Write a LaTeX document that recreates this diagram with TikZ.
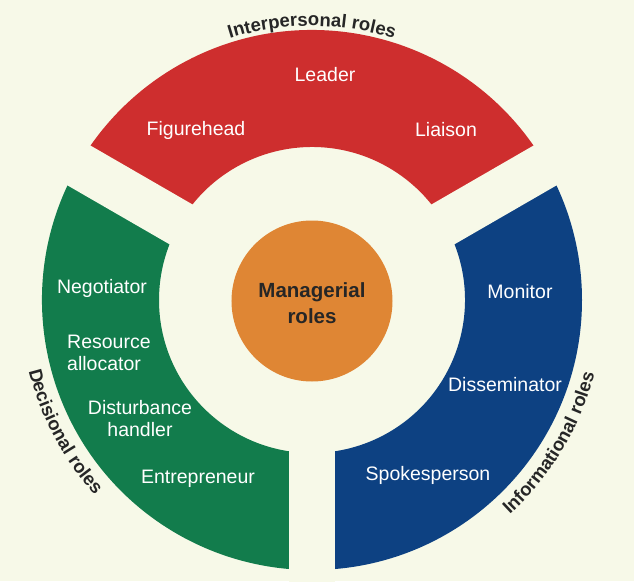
\documentclass[tikz,border=0pt]{standalone}
\usepackage{fontspec}
\setmainfont{Liberation Sans}
\usetikzlibrary{decorations.text}
\definecolor{bg}{HTML}{F7F9E8}
\definecolor{cred}{HTML}{CE2E2E}
\definecolor{cgreen}{HTML}{127C4C}
\definecolor{cblue}{HTML}{0D4182}
\definecolor{corange}{HTML}{DF8634}
\definecolor{ink}{HTML}{262626}
\begin{document}
\begin{tikzpicture}[x=1pt,y=1pt,
  role/.style={text=white,font=\fontsize{19.5}{22}\selectfont,inner sep=0pt},
  gap/.style={draw=bg,line width=46pt},
  arclabel/.style={decorate,decoration={text along path,text align=center,
     text={|\fontsize{18.5}{21}\bfseries\color{ink}|#1}}}]
\fill[bg] (-312,-281) rectangle (322,300);
\useasboundingbox (-312,-281) rectangle (322,300);
\fill[cred] (30:270) arc[start angle=30,end angle=150,radius=270] -- (150:153) arc[start angle=150,end angle=30,radius=153] -- cycle;
\fill[cgreen] (150:270) arc[start angle=150,end angle=270,radius=270] -- (270:153) arc[start angle=270,end angle=150,radius=153] -- cycle;
\fill[cblue] (270:270) arc[start angle=270,end angle=390,radius=270] -- (30:153) arc[start angle=30,end angle=-90,radius=153] -- cycle;
\coordinate (o) at (0,0);
\coordinate (g1) at (30:300);
\coordinate (g2) at (150:300);
\coordinate (g3) at (270:300);
\draw[gap] (o) -- (g1);
\draw[gap] (o) -- (g2);
\draw[gap] (o) -- (g3);
\node[circle,fill=corange,minimum size=161pt,inner sep=0pt] (core) at (0,-1) {};
\node[align=center,text=ink,font=\fontsize{20.5}{26}\selectfont\bfseries] (ctext) at (0,-3) {Managerial\\roles};
\node[role] (leader) at (13,225) {Leader};
\node[role] (fig) at (-116,170) {Figurehead};
\node[role] (liaison) at (134,170) {Liaison};
\node[role] (neg) at (-210,12) {Negotiator};
\node[role,anchor=west,align=left] (res) at (-245,-53) {Resource\\allocator};
\node[role,align=center] (dist) at (-172,-119) {Disturbance\\handler};
\node[role] (entr) at (-114,-179) {Entrepreneur};
\node[role] (mon) at (208,8) {Monitor};
\node[role] (diss) at (193,-85) {Disseminator};
\node[role] (spok) at (116,-175) {Spokesperson};
\path[arclabel=Interpersonal roles] (125:274) arc[start angle=125,end angle=55,radius=274];
\path[arclabel=Decisional roles] (180:292) arc[start angle=180,end angle=236,radius=292];
\path[arclabel=Informational roles] (-64:292) arc[start angle=-64,end angle=2,radius=292];
\end{tikzpicture}
\end{document}
